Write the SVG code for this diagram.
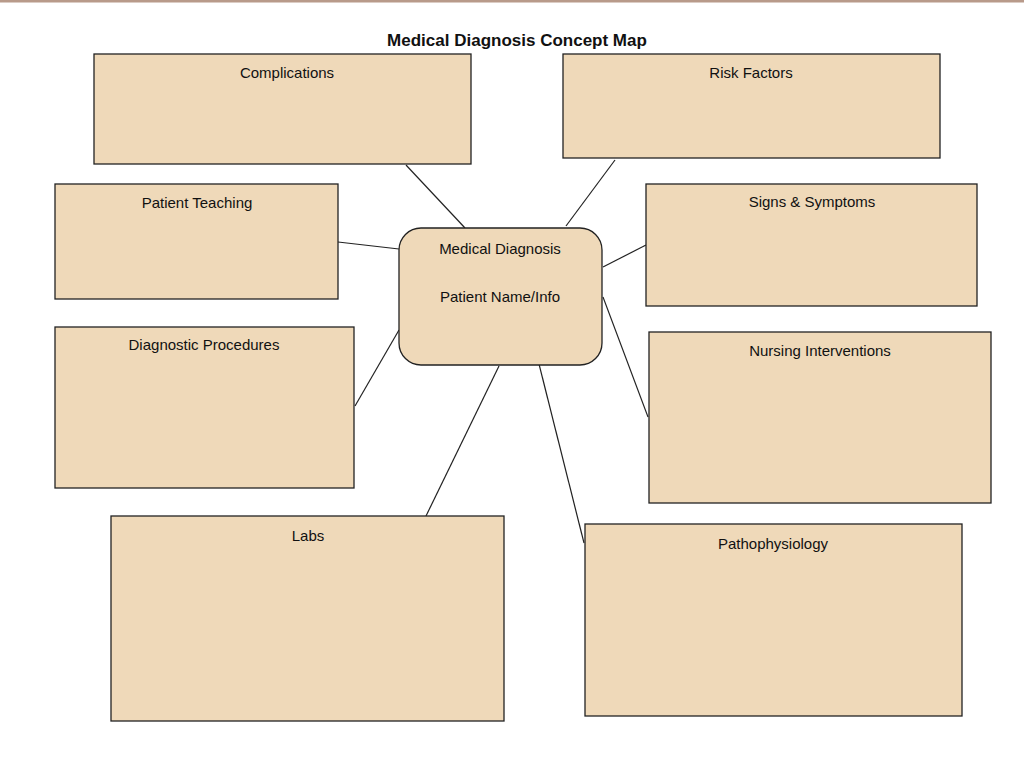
<svg xmlns="http://www.w3.org/2000/svg" width="1024" height="775" viewBox="0 0 1024 775">
<style>
.b{fill:#efd9b9;stroke:#222;stroke-width:1.3}
.t{font-family:"Liberation Sans",Arial,sans-serif;font-size:15px;fill:#111;text-anchor:middle}
.c line{stroke:#222;stroke-width:1.2}
</style>
<rect width="1024" height="775" fill="#fff"/>
<rect x="0" y="0" width="1024" height="2.5" fill="#b89a8a"/>
<text x="517" y="46" class="t" style="font-weight:bold;font-size:17px">Medical Diagnosis Concept Map</text>
<g class="c">
<line x1="406" y1="165" x2="465" y2="228"/>
<line x1="615" y1="160" x2="566" y2="226"/>
<line x1="338" y1="242" x2="399" y2="249"/>
<line x1="603" y1="267" x2="646" y2="245"/>
<line x1="399" y1="330" x2="355" y2="406"/>
<line x1="603" y1="297" x2="648" y2="417"/>
<line x1="499" y1="366" x2="426" y2="516"/>
<line x1="539" y1="364" x2="584" y2="543"/>
</g>
<g id="complications"><rect class="b" x="94" y="54" width="377" height="110"/><text class="t" x="287" y="78">Complications</text></g>
<g id="risk"><rect class="b" x="563" y="54" width="377" height="104"/><text class="t" x="751" y="78">Risk Factors</text></g>
<g id="teaching"><rect class="b" x="55" y="184" width="283" height="115"/><text class="t" x="197" y="208">Patient Teaching</text></g>
<g id="signs"><rect class="b" x="646" y="184" width="331" height="122"/><text class="t" x="812" y="207">Signs &amp; Symptoms</text></g>
<g id="diagnostic"><rect class="b" x="55" y="327" width="299" height="161"/><text class="t" x="204" y="350">Diagnostic Procedures</text></g>
<g id="nursing"><rect class="b" x="649" y="332" width="342" height="171"/><text class="t" x="820" y="356">Nursing Interventions</text></g>
<g id="labs"><rect class="b" x="111" y="516" width="393" height="205"/><text class="t" x="308" y="541">Labs</text></g>
<g id="patho"><rect class="b" x="585" y="524" width="377" height="192"/><text class="t" x="773" y="549">Pathophysiology</text></g>
<g id="center"><rect class="b" x="399" y="228" width="203" height="137" rx="22"/><text class="t" x="500" y="254">Medical Diagnosis</text><text class="t" x="500" y="302">Patient Name/Info</text></g>
</svg>
